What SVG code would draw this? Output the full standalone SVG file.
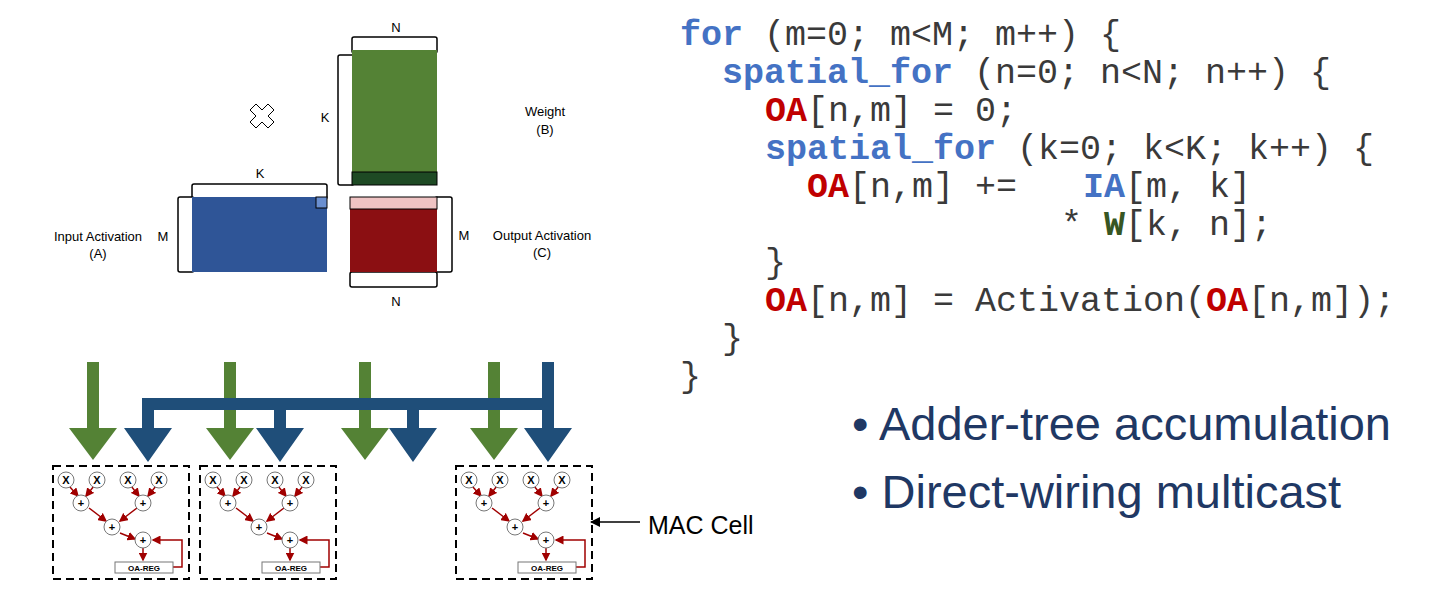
<svg xmlns="http://www.w3.org/2000/svg" width="1440" height="590" viewBox="0 0 1440 590">
<defs>
<style>
.t{font-family:"Liberation Sans",Arial,sans-serif;fill:#000}
.br{fill:#fff;stroke:#000;stroke-width:1.5}
.code{font-family:"Liberation Mono","Courier New",monospace;font-size:35px;fill:#3a3a3a}
.kw{fill:#4472C4;font-weight:bold}
.rd{fill:#C00000;font-weight:bold}
.gn{fill:#375623;font-weight:bold}
.cell{fill:none;stroke:#000;stroke-width:2;stroke-dasharray:8,5}
.c{fill:#fff;stroke:#777;stroke-width:1}
.ct{font-family:"Liberation Sans",Arial,sans-serif;font-weight:bold;font-size:11px;text-anchor:middle}
.w{stroke:#A00000;stroke-width:1.5;fill:none;marker-end:url(#ra)}
.g{fill:#548235}
.b{fill:#1F4E79}
.bul{font-family:"Liberation Sans",Arial,sans-serif;font-size:47px;fill:#1F3864}
</style>
<marker id="ra" markerWidth="6" markerHeight="6" refX="5" refY="3" orient="auto"><path d="M0,0 L6,3 L0,6z" fill="#A00000"/></marker>
<marker id="ka" markerWidth="10" markerHeight="10" refX="9" refY="5" orient="auto" markerUnits="userSpaceOnUse"><path d="M0,0 L10,5 L0,10z" fill="#000"/></marker>
<g id="mac">
<rect class="cell" x="0" y="0" width="136" height="113"/>
<g class="w">
<line x1="16" y1="20" x2="25" y2="30"/><line x1="41" y1="20" x2="33" y2="30"/>
<line x1="78" y1="20" x2="86" y2="30"/><line x1="103" y1="20" x2="95" y2="30"/>
<line x1="36" y1="42" x2="53" y2="55"/><line x1="84" y1="42" x2="67" y2="55"/>
<line x1="67" y1="67" x2="82" y2="73"/>
<line x1="90" y1="82" x2="90" y2="94"/>
<polyline points="120,101 129,101 129,74 100,74"/>
</g>
<circle class="c" cx="13" cy="14" r="8"/><circle class="c" cx="44" cy="14" r="8"/><circle class="c" cx="75" cy="14" r="8"/><circle class="c" cx="106" cy="14" r="8"/>
<circle class="c" cx="28" cy="37" r="8"/><circle class="c" cx="90" cy="37" r="8"/>
<circle class="c" cx="59" cy="61" r="8"/><circle class="c" cx="90" cy="74" r="8"/>
<text class="ct" x="13" y="18">X</text><text class="ct" x="44" y="18">X</text><text class="ct" x="75" y="18">X</text><text class="ct" x="106" y="18">X</text>
<text class="ct" x="28" y="41">+</text><text class="ct" x="90" y="41">+</text><text class="ct" x="59" y="65">+</text><text class="ct" x="90" y="78">+</text>
<rect x="62" y="96" width="58" height="11" fill="#fff" stroke="#777"/>
<text class="ct" x="91" y="105" style="font-size:8px">OA-REG</text>
</g>
</defs>

<g id="matrices">
<rect class="br" x="352" y="37" width="85" height="16" rx="2"/>
<rect class="br" x="338" y="55" width="16" height="130" rx="2"/>
<rect x="352" y="50" width="85" height="135" fill="#548235"/>
<rect x="352" y="172" width="85" height="13" fill="#1E4A24" stroke="#000"/>
<rect class="br" x="192" y="184" width="135" height="15" rx="2"/>
<rect class="br" x="178" y="197" width="16" height="75" rx="2"/>
<rect x="192" y="197" width="135" height="75" fill="#2F5597"/>
<rect x="316" y="197" width="11" height="11" fill="#6A8FD0" stroke="#000"/>
<rect class="br" x="350" y="272" width="87" height="15" rx="2"/>
<rect class="br" x="435" y="197" width="17" height="75" rx="2"/>
<rect x="350" y="209" width="87" height="63" fill="#8B0F12"/>
<rect x="350" y="197" width="87" height="12" fill="#EFC3C3" stroke="#000"/>
<path d="M250,110 l6,-6 l6,6 l6,-6 l6,6 l-6,6 l6,6 l-6,6 l-6,-6 l-6,6 l-6,-6 l6,-6z" fill="#fff" stroke="#000" stroke-width="1"/>
<g class="t" font-size="13" text-anchor="middle">
<text x="396" y="32">N</text><text x="325" y="122">K</text>
<text x="545" y="116">Weight</text><text x="545" y="134">(B)</text>
<text x="260" y="178">K</text>
<text x="98" y="241">Input Activation</text><text x="98" y="258">(A)</text>
<text x="163" y="241">M</text><text x="464" y="240">M</text>
<text x="542" y="240">Output Activation</text><text x="542" y="257">(C)</text>
<text x="396" y="306">N</text>
</g>
</g>

<g id="code" class="code">
<text x="680" y="45"><tspan class="kw">for</tspan> (m=0; m&lt;M; m++) {</text>
<text x="722" y="83"><tspan class="kw">spatial_for</tspan> (n=0; n&lt;N; n++) {</text>
<text x="765" y="121"><tspan class="rd">OA</tspan>[n,m] = 0;</text>
<text x="765" y="159"><tspan class="kw">spatial_for</tspan> (k=0; k&lt;K; k++) {</text>
<text x="807" y="197"><tspan class="rd">OA</tspan>[n,m] +=  <tspan x="1083" class="kw">IA</tspan>[m, k]</text>
<text x="1061" y="235">* <tspan x="1104" class="gn">W</tspan>[k, n];</text>
<text x="765" y="273">}</text>
<text x="765" y="311"><tspan class="rd">OA</tspan>[n,m] = Activation(<tspan class="rd">OA</tspan>[n,m]);</text>
<text x="722" y="349">}</text>
<text x="680" y="387">}</text>
</g>

<g id="bullets" class="bul">
<text x="852" y="440">• Adder-tree accumulation</text>
<text x="852" y="508">• Direct-wiring multicast</text>
</g>

<g id="connectors">
<path class="g" d="M87,362 h12 v66 h18 l-24,32 l-24,-32 h18z"/>
<path class="g" d="M224,362 h12 v66 h18 l-24,32 l-24,-32 h18z"/>
<path class="g" d="M359,362 h12 v66 h18 l-24,32 l-24,-32 h18z"/>
<path class="g" d="M488,362 h12 v66 h18 l-24,32 l-24,-32 h18z"/>
<rect class="b" x="142" y="398" width="412" height="12"/>
<path class="b" d="M142,404 h12 v24 h18 l-24,34 l-24,-34 h18z"/>
<path class="b" d="M274,404 h12 v24 h18 l-24,34 l-24,-34 h18z"/>
<path class="b" d="M407,404 h12 v24 h18 l-24,34 l-24,-34 h18z"/>
<path class="b" d="M542,362 h12 v66 h18 l-24,34 l-24,-34 h18z"/>
<line x1="640" y1="522" x2="591" y2="522" stroke="#000" stroke-width="1.5" marker-end="url(#ka)"/>
</g>

<g id="cell1" transform="translate(53,466)"><use href="#mac"/></g>
<g id="cell2" transform="translate(200,466)"><use href="#mac"/></g>
<g id="cell3" transform="translate(456,466)"><use href="#mac"/></g>
<text id="maclabel" class="t" x="648" y="534" font-size="25">MAC Cell</text>
</svg>
